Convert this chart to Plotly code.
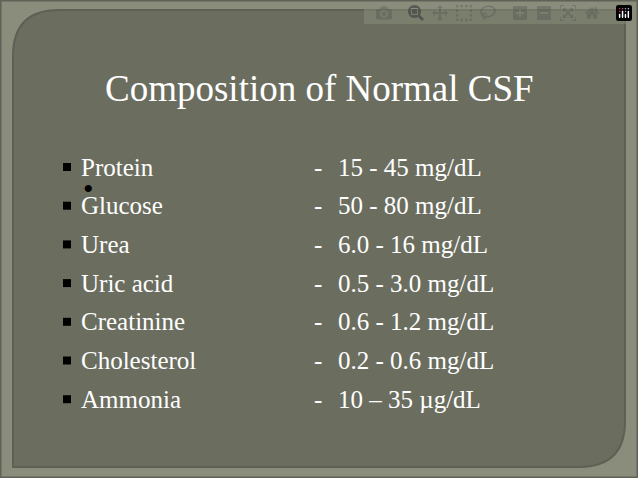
import plotly.graph_objects as go

title = "Composition of Normal CSF"
analytes = ["Protein", "Glucose", "Urea", "Uric acid", "Creatinine", "Cholesterol", "Ammonia"]
ranges = ["15 - 45 mg/dL", "50 - 80 mg/dL", "6.0 - 16 mg/dL", "0.5 - 3.0 mg/dL",
          "0.6 - 1.2 mg/dL", "0.2 - 0.6 mg/dL", "10 – 35 µg/dL"]

W, H = 638, 478
row_y = [167 + i * 38.7 for i in range(len(analytes))]
serif = "Liberation Serif"

fig = go.Figure()

# bullets
fig.add_trace(go.Scatter(
    x=[67] * len(analytes), y=row_y, mode="markers",
    marker=dict(symbol="square", size=8, color="black"),
    hoverinfo="skip", showlegend=False,
))

# slide panel: rounded top-left and bottom-right corners
r = 46
x0, y0, x1, y1 = 13, 10, 625, 467
panel = (f"M {x0+r},{y0} L {x1},{y0} L {x1},{y1-r} Q {x1},{y1} {x1-r},{y1} "
         f"L {x0},{y1} L {x0},{y0+r} Q {x0},{y0} {x0+r},{y0} Z")
fig.add_shape(type="rect", x0=0, y0=0, x1=W, y1=H, line=dict(color="#5f6256", width=3),
              fillcolor="#8a8d7b", layer="below")
fig.add_shape(type="path", path=panel, fillcolor="#6b6e5f",
              line=dict(color="#5d6053", width=2), layer="below")

fig.add_annotation(x=319, y=88, text=title, showarrow=False,
                   font=dict(family=serif, size=37, color="white"))

for name, val, y in zip(analytes, ranges, row_y):
    fig.add_annotation(x=79, y=y, text=name, xanchor="left", showarrow=False,
                       font=dict(family=serif, size=25, color="white"))
    fig.add_annotation(x=312, y=y, text="-", xanchor="left", showarrow=False,
                       font=dict(family=serif, size=25, color="white"))
    fig.add_annotation(x=336, y=y, text=val, xanchor="left", showarrow=False,
                       font=dict(family=serif, size=25, color="white"))

# stray bullet from the original slide
fig.add_annotation(x=88, y=188, text="•", showarrow=False,
                   font=dict(family=serif, size=30, color="black"))

fig.update_xaxes(range=[0, W], visible=False)
fig.update_yaxes(range=[H, 0], visible=False)
fig.update_layout(width=W, height=H, margin=dict(l=0, r=0, t=0, b=0),
                  paper_bgcolor="#8a8d7b", plot_bgcolor="#8a8d7b")

fig.write_html("out.html", post_script="document.body.style.margin='0';")
